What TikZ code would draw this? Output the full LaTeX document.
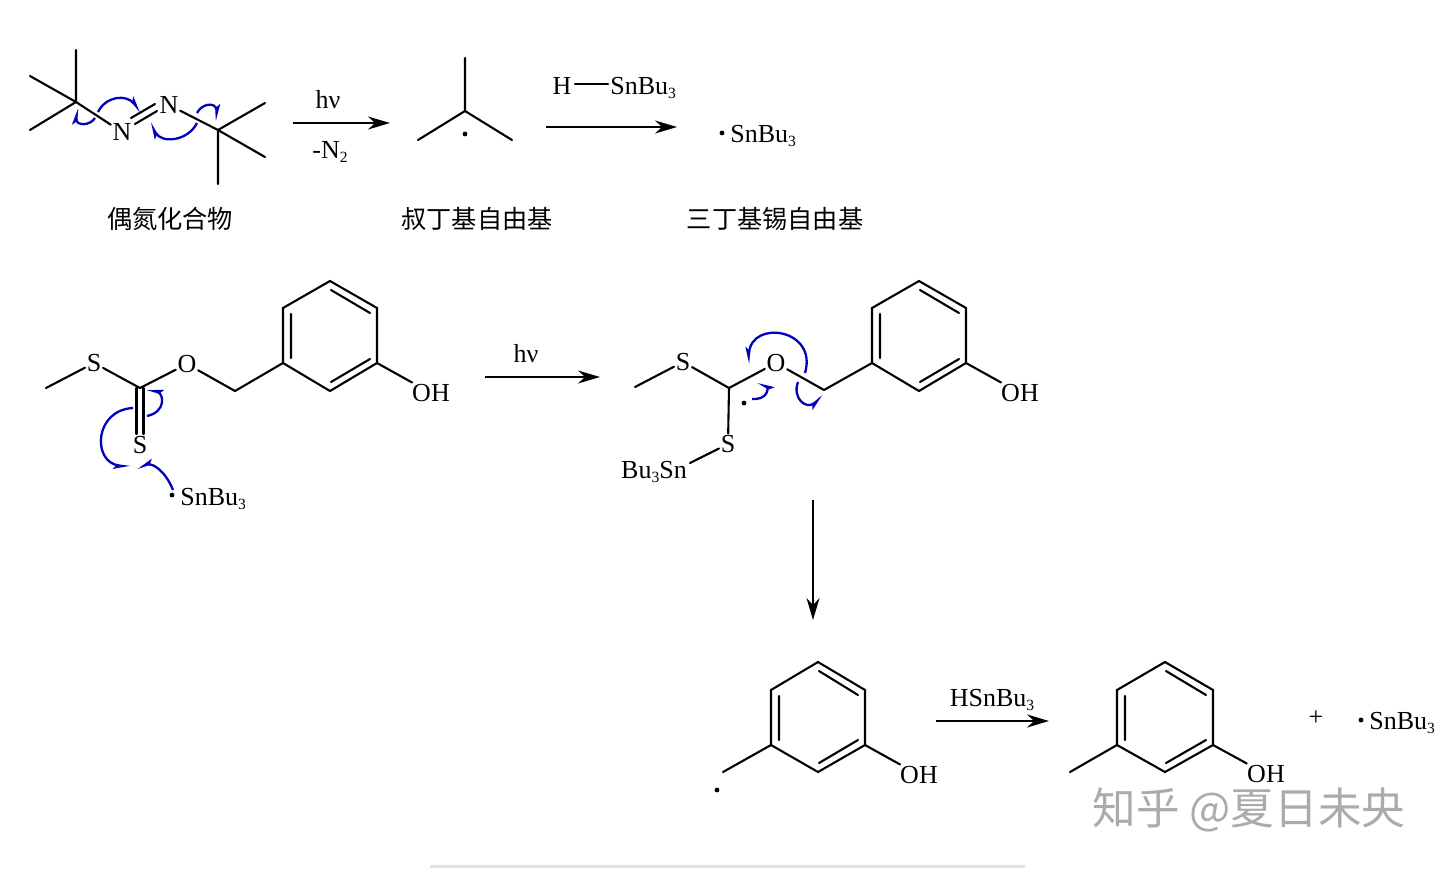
\documentclass[tikz,border=0pt]{standalone}
\usepackage{fontspec}
\setmainfont{Liberation Serif}
\newfontfamily\cjk{Noto Sans CJK SC}
\usetikzlibrary{arrows.meta}
\definecolor{pushblue}{RGB}{0,0,190}
\newcommand{\lowsub}[1]{\raisebox{-0.38ex}{\fontsize{7.8}{9}\selectfont #1}}
\newcommand{\tribu}{SnBu\lowsub{3}}
\tikzset{
  bond/.style={line width=1.05pt,line cap=round},
  atom/.style={inner sep=0.7pt,font=\fontsize{13}{14}\selectfont},
  plain/.style={inner sep=0pt,font=\fontsize{13}{14}\selectfont},
  cjklabel/.style={inner sep=0pt,font=\cjk\fontsize{12.6}{14}\selectfont},
  rxn/.style={line width=1.05pt,-{Stealth[length=11pt,width=6.5pt]}},
  pushcw/.style={pushblue,line width=1.15pt,-{Stealth[harpoon,length=6.5pt,width=4pt,inset=1.5pt]}},
  pushccw/.style={pushblue,line width=1.15pt,-{Stealth[harpoon,swap,length=6.5pt,width=4pt,inset=1.5pt]}},
  radical/.style={circle,fill=black,inner sep=0pt,minimum size=2.4pt},
}
\begin{document}
\begin{tikzpicture}[x=0.5pt,y=-0.5pt]
\useasboundingbox (0,0) rectangle (1440,868);
\fill[white] (0,0) rectangle (1440,868);
\fill[black!12] (430,865) rectangle (1025,868);

% --- azo compound
\coordinate (a1) at (76,102);
\coordinate (a1t) at (76,50);
\coordinate (a1u) at (30,76);
\coordinate (a1d) at (30,130);
\node[atom] (n1) at (122,132) {N};
\node[atom] (n2) at (169,105) {N};
\coordinate (a2) at (218,130);
\coordinate (a2u) at (265,103);
\coordinate (a2d) at (265,157);
\coordinate (a2b) at (218,184);
\draw[bond] (a1) -- (a1t) (a1) -- (a1u) (a1) -- (a1d) (a1) -- (n1);
\draw[bond] (n2) -- (a2) (a2) -- (a2u) (a2) -- (a2d) (a2) -- (a2b);
\draw[bond] ([shift={(9,-14)}]n1.center) -- ([shift={(33,-28)}]n1.center);
\draw[bond] ([shift={(13,-8)}]n1.center) -- ([shift={(35,-21)}]n1.center);
\draw[pushcw] (98,112) .. controls (106,96) and (126,94) .. (141,112);
\draw[pushcw] (95,118) .. controls (90,126) and (76,126) .. (77,108);
\draw[pushcw] (197,123) .. controls (188,141) and (162,144) .. (150,123);
\draw[pushcw] (197,113) .. controls (202,103) and (216,102) .. (217,121);

\draw[rxn] (293,123) -- (390,123);
\node[plain] (hv1) at (328,100) {hν};
\node[plain] (n2t) at (330,152) {-N\lowsub{2}};

% --- tert-butyl radical
\coordinate (b) at (465,111);
\coordinate (bt) at (465,58);
\coordinate (bl) at (418,140);
\coordinate (br) at (512,140);
\draw[bond] (b) -- (bt) (b) -- (bl) (b) -- (br);
\node[radical] (bdot) at (465,134) {};

\node[atom] (h) at (562,86) {H};
\node[plain,anchor=west] (snh) at (610,88) {\tribu};
\coordinate (hb1) at (575,84);
\coordinate (hb2) at (608,84);
\draw[bond] (hb1) -- (hb2);
\draw[rxn] (546,127) -- (677,127);
\node[radical] (d1) at (722,133) {};
\node[plain,anchor=west] (sn1) at (730,136) {\tribu};

\node[cjklabel] (l1) at (170,219) {偶氮化合物};
\node[cjklabel] (l2) at (477,219) {叔丁基自由基};
\node[cjklabel] (l3) at (775,219) {三丁基锡自由基};

% --- xanthate
\coordinate (c0) at (46,388);
\node[atom] (s1) at (94,363) {S};
\coordinate (c1) at (140,388);
\node[atom] (o1) at (187,364) {O};
\coordinate (c2) at (235,391);
\coordinate (r1) at (283,363);
\coordinate (r2) at (283,308);
\coordinate (r3) at (330,281);
\coordinate (r4) at (377,308);
\coordinate (r5) at (377,363);
\coordinate (r6) at (330,391);
\node[atom] (oh1) at (431,393) {OH};
\node[atom] (s2) at (140,445) {S};
\draw[bond] (c0) -- (s1) (s1) -- (c1) (c1) -- (o1) (o1) -- (c2) (c2) -- (r1);
\draw[bond] (r1) -- (r2) -- (r3) -- (r4) -- (r5) -- (r6) -- cycle;
\draw[bond] (r5) -- (oh1);
\draw[bond] (291,314) -- (291,358) (331,290) -- (370,313) (331,382) -- (370,359);
\draw[bond] (136.5,388) -- (136.5,434) (143.5,388) -- (143.5,434);
\node[radical] (d2) at (172,495) {};
\node[plain,anchor=west] (sn2) at (180,499) {\tribu};
\draw[pushccw] (133,408) .. controls (94,410) and (92,462) .. (130,467);
\draw[pushccw] (173,490) .. controls (165,470) and (152,463) .. (137,468);
\draw[pushccw] (147,416) .. controls (166,412) and (164,394) .. (147,389);

\draw[rxn] (485,377) -- (600,377);
\node[plain] (hv2) at (526,354) {hν};

% --- adduct radical
\coordinate (e0) at (635,387);
\node[atom] (s3) at (683,362) {S};
\coordinate (e1) at (729,388);
\node[atom] (o2) at (776,363) {O};
\coordinate (e2) at (824,390);
\coordinate (q1) at (872,363);
\coordinate (q2) at (872,308);
\coordinate (q3) at (919,281);
\coordinate (q4) at (966,308);
\coordinate (q5) at (966,363);
\coordinate (q6) at (919,391);
\node[atom] (oh2) at (1020,393) {OH};
\node[atom] (s4) at (728,444) {S};
\node[plain] (bu) at (654,472) {Bu\lowsub{3}Sn};
\coordinate (bub) at (690,463);
\draw[bond] (e0) -- (s3) (s3) -- (e1) (e1) -- (o2) (o2) -- (e2) (e2) -- (q1);
\draw[bond] (q1) -- (q2) -- (q3) -- (q4) -- (q5) -- (q6) -- cycle;
\draw[bond] (q5) -- (oh2);
\draw[bond] (880,314) -- (880,358) (920,290) -- (959,313) (920,382) -- (959,359);
\draw[bond] (e1) -- (s4);
\draw[bond] (s4) -- (bub);
\node[radical] (d3) at (744,403) {};
\draw[pushccw] (805,373) .. controls (818,329) and (752,319) .. (748,364);
\draw[pushccw] (752,399) .. controls (768,400) and (768,388) .. (758,382);
\draw[pushccw] (798,382) .. controls (792,398) and (806,410) .. (823,396);

\coordinate (dn1) at (813,500);
\coordinate (dn2) at (813,620);
\draw[rxn] (dn1) -- (dn2);

% --- benzyl radical
\coordinate (f0) at (723,772);
\coordinate (t1) at (771,745);
\coordinate (t2) at (771,690);
\coordinate (t3) at (818,662);
\coordinate (t4) at (865,690);
\coordinate (t5) at (865,745);
\coordinate (t6) at (818,772);
\node[atom] (oh3) at (919,775) {OH};
\draw[bond] (f0) -- (t1);
\draw[bond] (t1) -- (t2) -- (t3) -- (t4) -- (t5) -- (t6) -- cycle;
\draw[bond] (t5) -- (oh3);
\draw[bond] (779,696) -- (779,740) (819,671) -- (858,695) (819,763) -- (858,740);
\node[radical] (d4) at (717,790) {};

\draw[rxn] (936,721) -- (1049,721);
\node[plain] (hsn) at (992,700) {H\tribu};

% --- product
\coordinate (g0) at (1070,772);
\coordinate (p1) at (1117,745);
\coordinate (p2) at (1117,690);
\coordinate (p3) at (1165,662);
\coordinate (p4) at (1213,690);
\coordinate (p5) at (1213,745);
\coordinate (p6) at (1165,772);
\node[atom] (oh4) at (1266,774) {OH};
\draw[bond] (g0) -- (p1);
\draw[bond] (p1) -- (p2) -- (p3) -- (p4) -- (p5) -- (p6) -- cycle;
\draw[bond] (p5) -- (oh4);
\draw[bond] (1125,696) -- (1125,740) (1166,671) -- (1206,695) (1166,763) -- (1206,740);
\node[plain] (plus) at (1316,718) {+};
\node[radical] (d5) at (1361,720) {};
\node[plain,anchor=west] (sn3) at (1369,723) {\tribu};

\node[inner sep=0pt,text=black!33,font=\cjk\fontsize{21.8}{23}\selectfont] (wm) at (1249,810) {知乎 @夏日未央};
\end{tikzpicture}
\end{document}
